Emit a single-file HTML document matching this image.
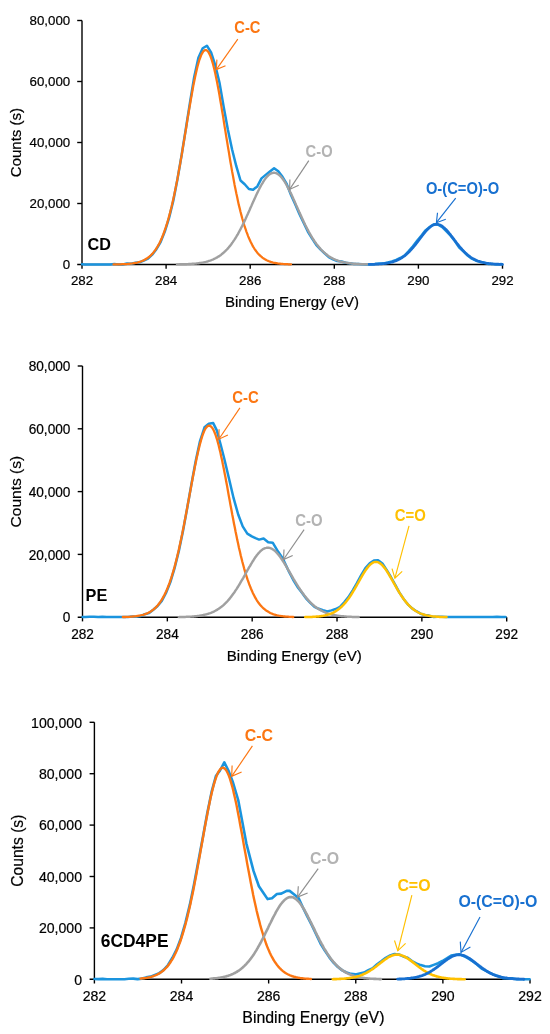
<!DOCTYPE html>
<html lang="en"><head><meta charset="utf-8"><title>XPS C1s spectra</title>
<style>html,body{margin:0;padding:0;background:#fff}svg{display:block}</style></head>
<body>
<svg width="550" height="1034" viewBox="0 0 550 1034" font-family="'Liberation Sans', sans-serif">
<rect width="550" height="1034" fill="#fff"/>
<g stroke="#000" stroke-width="1.4" fill="none">
<line x1="82.0" y1="20.5" x2="82.0" y2="268.7"/>
<line x1="77.2" y1="264.5" x2="502.5" y2="264.5"/>
<line x1="77.2" y1="203.50" x2="82.0" y2="203.50"/>
<line x1="77.2" y1="142.50" x2="82.0" y2="142.50"/>
<line x1="77.2" y1="81.50" x2="82.0" y2="81.50"/>
<line x1="77.2" y1="20.50" x2="82.0" y2="20.50"/>
<line x1="166.10" y1="264.5" x2="166.10" y2="268.7"/>
<line x1="250.20" y1="264.5" x2="250.20" y2="268.7"/>
<line x1="334.30" y1="264.5" x2="334.30" y2="268.7"/>
<line x1="418.40" y1="264.5" x2="418.40" y2="268.7"/>
<line x1="502.50" y1="264.5" x2="502.50" y2="268.7"/>
</g>
<g>
<text transform="translate(70.20,269.32) scale(1.0,1.02)" font-size="13.3" text-anchor="end" fill="#000" stroke="#000" stroke-width="0.2">0</text>
<text transform="translate(70.20,208.32) scale(1.0,1.02)" font-size="13.3" text-anchor="end" fill="#000" stroke="#000" stroke-width="0.2">20,000</text>
<text transform="translate(70.20,147.32) scale(1.0,1.02)" font-size="13.3" text-anchor="end" fill="#000" stroke="#000" stroke-width="0.2">40,000</text>
<text transform="translate(70.20,86.32) scale(1.0,1.02)" font-size="13.3" text-anchor="end" fill="#000" stroke="#000" stroke-width="0.2">60,000</text>
<text transform="translate(70.20,25.32) scale(1.0,1.02)" font-size="13.3" text-anchor="end" fill="#000" stroke="#000" stroke-width="0.2">80,000</text>
<text transform="translate(82.00,284.80) scale(1.0,1.02)" font-size="13.3" text-anchor="middle" fill="#000" stroke="#000" stroke-width="0.2">282</text>
<text transform="translate(166.10,284.80) scale(1.0,1.02)" font-size="13.3" text-anchor="middle" fill="#000" stroke="#000" stroke-width="0.2">284</text>
<text transform="translate(250.20,284.80) scale(1.0,1.02)" font-size="13.3" text-anchor="middle" fill="#000" stroke="#000" stroke-width="0.2">286</text>
<text transform="translate(334.30,284.80) scale(1.0,1.02)" font-size="13.3" text-anchor="middle" fill="#000" stroke="#000" stroke-width="0.2">288</text>
<text transform="translate(418.40,284.80) scale(1.0,1.02)" font-size="13.3" text-anchor="middle" fill="#000" stroke="#000" stroke-width="0.2">290</text>
<text transform="translate(502.50,284.80) scale(1.0,1.02)" font-size="13.3" text-anchor="middle" fill="#000" stroke="#000" stroke-width="0.2">292</text>
</g>
<text transform="translate(292.00,306.80) scale(1.0,1.0)" font-size="15.0" text-anchor="middle" fill="#000" stroke="#000" stroke-width="0.2">Binding Energy (eV)</text>
<text transform="translate(20.80,142.60) rotate(-90) scale(1.0,1.0)" font-size="15.0" text-anchor="middle" fill="#000" stroke="#000" stroke-width="0.2">Counts (s)</text>
<polyline fill="none" stroke="#1A94DE" stroke-width="2.5" stroke-linejoin="round" stroke-linecap="round" points="82.0,264.3 84.9,264.4 89.1,264.4 93.3,264.4 97.5,264.4 101.7,264.4 105.9,264.4 110.1,264.4 114.3,264.1 118.6,264.4 122.8,264.4 127.0,263.6 131.2,263.8 135.4,262.8 139.6,262.3 143.8,260.6 148.0,258.7 152.2,254.7 156.4,249.2 160.6,242.1 164.8,231.6 169.0,218.1 173.2,201.3 177.4,179.6 181.6,155.3 185.8,129.0 190.0,102.4 194.2,76.9 198.4,57.7 202.7,48.2 206.9,45.7 211.1,52.5 215.3,65.3 219.5,82.8 223.7,107.0 227.9,129.7 232.1,149.5 236.3,166.2 240.5,180.5 244.7,184.2 248.9,189.0 253.1,189.7 257.3,186.4 261.5,178.4 265.7,174.9 269.9,171.5 274.1,168.2 278.3,171.3 282.5,176.8 286.7,184.0 291.0,195.0 295.2,204.3 299.4,213.9 303.6,222.8 307.8,231.5 312.0,238.4 316.2,244.8 320.4,249.3 324.6,253.3 328.8,257.1 333.0,259.4 337.2,261.0 341.4,261.5 345.6,262.8 349.8,263.3 354.0,264.0 358.2,264.0 362.4,264.3 366.6,264.4 370.9,264.2 375.1,264.1 379.3,263.5 383.5,263.4 387.7,262.5 391.9,261.5 396.1,259.9 400.3,258.0 404.5,255.5 408.7,251.0 412.9,246.2 417.1,240.9 421.3,235.7 425.5,230.4 429.7,227.0 433.9,224.2 438.1,224.6 442.3,227.2 446.5,231.5 450.8,235.9 455.0,241.3 459.2,247.5 463.4,251.4 467.6,255.6 471.8,258.7 476.0,260.7 480.2,261.7 484.4,262.6 488.6,264.0 492.8,263.9 497.0,264.4 501.2,264.1"/>
<polyline fill="none" stroke="#FC7612" stroke-width="2.25" stroke-linejoin="round" stroke-linecap="round" points="113.5,264.4 114.4,264.4 115.2,264.4 116.1,264.4 116.9,264.4 117.7,264.4 118.6,264.3 119.4,264.3 120.3,264.3 121.1,264.3 121.9,264.2 122.8,264.2 123.6,264.2 124.5,264.1 125.3,264.1 126.2,264.0 127.0,264.0 127.8,263.9 128.7,263.9 129.5,263.8 130.4,263.7 131.2,263.6 132.0,263.5 132.9,263.4 133.7,263.2 134.6,263.1 135.4,262.9 136.2,262.8 137.1,262.6 137.9,262.4 138.8,262.1 139.6,261.9 140.4,261.6 141.3,261.3 142.1,261.0 143.0,260.6 143.8,260.2 144.7,259.8 145.5,259.3 146.3,258.8 147.2,258.3 148.0,257.7 148.9,257.0 149.7,256.3 150.5,255.6 151.4,254.7 152.2,253.9 153.1,252.9 153.9,251.9 154.7,250.8 155.6,249.6 156.4,248.4 157.3,247.0 158.1,245.6 159.0,244.0 159.8,242.4 160.6,240.7 161.5,238.8 162.3,236.8 163.2,234.7 164.0,232.5 164.8,230.2 165.7,227.7 166.5,225.1 167.4,222.4 168.2,219.5 169.0,216.5 169.9,213.4 170.7,210.1 171.6,206.7 172.4,203.1 173.2,199.4 174.1,195.5 174.9,191.5 175.8,187.3 176.6,183.1 177.5,178.7 178.3,174.1 179.1,169.5 180.0,164.8 180.8,159.9 181.7,155.0 182.5,150.0 183.3,145.0 184.2,139.8 185.0,134.7 185.9,129.5 186.7,124.4 187.5,119.2 188.4,114.1 189.2,109.1 190.1,104.1 190.9,99.2 191.8,94.4 192.6,89.8 193.4,85.3 194.3,81.0 195.1,77.0 196.0,73.1 196.8,69.5 197.6,66.1 198.5,63.0 199.3,60.2 200.2,57.8 201.0,55.6 201.8,53.8 202.7,52.3 203.5,51.2 204.4,50.5 205.2,50.1 206.0,50.1 206.9,50.5 207.7,51.3 208.6,52.4 209.4,53.9 210.3,55.8 211.1,58.0 211.9,60.5 212.8,63.3 213.6,66.5 214.5,69.9 215.3,73.6 216.1,77.6 217.0,81.8 217.8,86.1 218.7,90.7 219.5,95.4 220.3,100.3 221.2,105.2 222.0,110.3 222.9,115.4 223.7,120.6 224.5,125.8 225.4,131.1 226.2,136.3 227.1,141.5 227.9,146.7 228.8,151.8 229.6,156.8 230.4,161.7 231.3,166.6 232.1,171.4 233.0,176.0 233.8,180.5 234.6,184.9 235.5,189.2 236.3,193.3 237.2,197.3 238.0,201.2 238.8,204.9 239.7,208.4 240.5,211.8 241.4,215.1 242.2,218.2 243.1,221.2 243.9,224.0 244.7,226.7 245.6,229.2 246.4,231.6 247.3,233.9 248.1,236.1 248.9,238.1 249.8,240.0 250.6,241.8 251.5,243.5 252.3,245.1 253.1,246.6 254.0,248.0 254.8,249.3 255.7,250.5 256.5,251.6 257.3,252.7 258.2,253.7 259.0,254.6 259.9,255.4 260.7,256.2 261.6,256.9 262.4,257.6 263.2,258.2 264.1,258.7 264.9,259.3 265.8,259.7 266.6,260.2 267.4,260.6 268.3,260.9 269.1,261.3 270.0,261.6 270.8,261.9 271.6,262.1 272.5,262.4 273.3,262.6 274.2,262.8 275.0,262.9 275.9,263.1 276.7,263.2 277.5,263.4 278.4,263.5 279.2,263.6 280.1,263.7 280.9,263.8 281.7,263.9 282.6,263.9 283.4,264.0 284.3,264.1 285.1,264.1 285.9,264.1 286.8,264.2 287.6,264.2 288.5,264.3 289.3,264.3 290.1,264.3 291.0,264.3"/>
<polyline fill="none" stroke="#A0A0A0" stroke-width="2.4" stroke-linejoin="round" stroke-linecap="round" points="177.0,264.4 177.9,264.4 178.7,264.4 179.6,264.3 180.4,264.3 181.3,264.3 182.1,264.3 182.9,264.3 183.8,264.2 184.6,264.2 185.5,264.2 186.3,264.2 187.2,264.1 188.0,264.1 188.9,264.0 189.7,264.0 190.5,264.0 191.4,263.9 192.2,263.8 193.1,263.8 193.9,263.7 194.8,263.6 195.6,263.6 196.5,263.5 197.3,263.4 198.2,263.3 199.0,263.2 199.8,263.0 200.7,262.9 201.5,262.8 202.4,262.6 203.2,262.5 204.1,262.3 204.9,262.1 205.8,261.9 206.6,261.7 207.4,261.5 208.3,261.2 209.1,260.9 210.0,260.7 210.8,260.4 211.7,260.0 212.5,259.7 213.4,259.3 214.2,258.9 215.0,258.5 215.9,258.1 216.7,257.6 217.6,257.1 218.4,256.6 219.3,256.1 220.1,255.5 221.0,254.9 221.8,254.2 222.6,253.5 223.5,252.8 224.3,252.0 225.2,251.2 226.0,250.4 226.9,249.5 227.7,248.6 228.6,247.6 229.4,246.6 230.3,245.6 231.1,244.5 231.9,243.3 232.8,242.1 233.6,240.9 234.5,239.6 235.3,238.3 236.2,236.9 237.0,235.5 237.9,234.1 238.7,232.5 239.5,231.0 240.4,229.4 241.2,227.8 242.1,226.1 242.9,224.4 243.8,222.7 244.6,220.9 245.5,219.1 246.3,217.3 247.1,215.4 248.0,213.5 248.8,211.7 249.7,209.8 250.5,207.8 251.4,205.9 252.2,204.0 253.1,202.1 253.9,200.2 254.7,198.4 255.6,196.5 256.4,194.7 257.3,192.9 258.1,191.2 259.0,189.5 259.8,187.8 260.7,186.2 261.5,184.7 262.4,183.3 263.2,181.9 264.0,180.6 264.9,179.4 265.7,178.2 266.6,177.2 267.4,176.3 268.3,175.4 269.1,174.7 270.0,174.1 270.8,173.6 271.6,173.2 272.5,173.0 273.3,172.8 274.2,172.8 275.0,172.9 275.9,173.1 276.7,173.4 277.6,173.9 278.4,174.4 279.2,175.1 280.1,175.9 280.9,176.7 281.8,177.7 282.6,178.8 283.5,180.0 284.3,181.2 285.2,182.6 286.0,184.0 286.8,185.5 287.7,187.1 288.5,188.7 289.4,190.3 290.2,192.1 291.1,193.8 291.9,195.6 292.8,197.5 293.6,199.3 294.5,201.2 295.3,203.1 296.1,205.0 297.0,206.9 297.8,208.8 298.7,210.7 299.5,212.6 300.4,214.5 301.2,216.4 302.1,218.2 302.9,220.0 303.7,221.8 304.6,223.6 305.4,225.3 306.3,227.0 307.1,228.6 308.0,230.2 308.8,231.8 309.7,233.3 310.5,234.8 311.3,236.3 312.2,237.6 313.0,239.0 313.9,240.3 314.7,241.6 315.6,242.8 316.4,243.9 317.3,245.0 318.1,246.1 318.9,247.1 319.8,248.1 320.6,249.1 321.5,250.0 322.3,250.8 323.2,251.7 324.0,252.4 324.9,253.2 325.7,253.9 326.6,254.5 327.4,255.2 328.2,255.8 329.1,256.4 329.9,256.9 330.8,257.4 331.6,257.9 332.5,258.3 333.3,258.8 334.2,259.2 335.0,259.5 335.8,259.9 336.7,260.2 337.5,260.5 338.4,260.8 339.2,261.1 340.1,261.3 340.9,261.6 341.8,261.8 342.6,262.0 343.4,262.2 344.3,262.4 345.1,262.5 346.0,262.7 346.8,262.8 347.7,263.0 348.5,263.1 349.4,263.2 350.2,263.3 351.0,263.4 351.9,263.5 352.7,263.6 353.6,263.7 354.4,263.7 355.3,263.8 356.1,263.9 357.0,263.9 357.8,264.0 358.7,264.0 359.5,264.1 360.3,264.1 361.2,264.1 362.0,264.2 362.9,264.2 363.7,264.2 364.6,264.3 365.4,264.3 366.3,264.3 367.1,264.3"/>
<polyline fill="none" stroke="#1770D0" stroke-width="2.7" stroke-linejoin="round" stroke-linecap="round" points="369.2,264.4 370.0,264.4 370.9,264.4 371.7,264.3 372.6,264.3 373.4,264.3 374.3,264.3 375.1,264.2 376.0,264.2 376.8,264.2 377.6,264.1 378.5,264.1 379.3,264.0 380.2,264.0 381.0,263.9 381.9,263.8 382.7,263.7 383.5,263.6 384.4,263.5 385.2,263.4 386.1,263.3 386.9,263.2 387.8,263.0 388.6,262.9 389.4,262.7 390.3,262.5 391.1,262.3 392.0,262.1 392.8,261.9 393.7,261.6 394.5,261.3 395.4,261.0 396.2,260.7 397.0,260.3 397.9,259.9 398.7,259.5 399.6,259.1 400.4,258.6 401.3,258.1 402.1,257.6 402.9,257.0 403.8,256.4 404.6,255.8 405.5,255.1 406.3,254.4 407.2,253.6 408.0,252.9 408.9,252.0 409.7,251.2 410.5,250.3 411.4,249.4 412.2,248.4 413.1,247.5 413.9,246.5 414.8,245.4 415.6,244.4 416.4,243.3 417.3,242.2 418.1,241.1 419.0,240.0 419.8,238.8 420.7,237.7 421.5,236.6 422.4,235.5 423.2,234.4 424.0,233.4 424.9,232.3 425.7,231.4 426.6,230.4 427.4,229.5 428.3,228.7 429.1,227.9 429.9,227.2 430.8,226.5 431.6,225.9 432.5,225.4 433.3,225.0 434.2,224.7 435.0,224.5 435.9,224.3 436.7,224.3 437.5,224.3 438.4,224.5 439.2,224.7 440.1,225.0 440.9,225.4 441.8,225.9 442.6,226.5 443.4,227.2 444.3,227.9 445.1,228.7 446.0,229.5 446.8,230.4 447.7,231.4 448.5,232.4 449.3,233.4 450.2,234.4 451.0,235.5 451.9,236.6 452.7,237.7 453.6,238.8 454.4,240.0 455.3,241.1 456.1,242.2 456.9,243.3 457.8,244.4 458.6,245.4 459.5,246.5 460.3,247.5 461.2,248.4 462.0,249.4 462.8,250.3 463.7,251.2 464.5,252.1 465.4,252.9 466.2,253.6 467.1,254.4 467.9,255.1 468.8,255.8 469.6,256.4 470.4,257.0 471.3,257.6 472.1,258.1 473.0,258.6 473.8,259.1 474.7,259.5 475.5,259.9 476.3,260.3 477.2,260.7 478.0,261.0 478.9,261.3 479.7,261.6 480.6,261.9 481.4,262.1 482.3,262.3 483.1,262.5 483.9,262.7 484.8,262.9 485.6,263.0 486.5,263.2 487.3,263.3 488.2,263.4 489.0,263.5 489.8,263.6 490.7,263.7 491.5,263.8 492.4,263.9 493.2,264.0 494.1,264.0 494.9,264.1 495.8,264.1 496.6,264.2 497.4,264.2 498.3,264.2 499.1,264.3 500.0,264.3 500.8,264.3 501.7,264.3 502.5,264.4"/>
<text transform="translate(234.30,33.40) scale(1.0,1.07)" font-size="14.75" font-weight="bold" fill="#FC7612">C-C</text>
<line x1="237.8" y1="39.1" x2="216.3" y2="69.6" stroke="#FC7612" stroke-width="1.15"/><polyline points="216.9,59.6 216.3,69.6 225.5,65.7" fill="none" stroke="#FC7612" stroke-width="1.15"/>
<text transform="translate(305.60,157.10) scale(1.0,1.07)" font-size="14.75" font-weight="bold" fill="#B3B3B3">C-O</text>
<line x1="308.8" y1="160.6" x2="289.6" y2="189.4" stroke="#8E8E8E" stroke-width="1.15"/><polyline points="289.9,179.4 289.6,189.4 298.7,185.3" fill="none" stroke="#8E8E8E" stroke-width="1.15"/>
<text transform="translate(425.90,194.30) scale(1.0,1.07)" font-size="14.75" font-weight="bold" fill="#1770D0">O-(C=O)-O</text>
<line x1="455.7" y1="198.1" x2="436.4" y2="222.7" stroke="#1770D0" stroke-width="1.15"/><polyline points="437.5,212.8 436.4,222.7 445.8,219.3" fill="none" stroke="#1770D0" stroke-width="1.15"/>
<text transform="translate(87.50,250.40) scale(1.0,1.0)" font-size="16.2" font-weight="bold" fill="#000">CD</text>
<g stroke="#000" stroke-width="1.4" fill="none">
<line x1="82.5" y1="366.0" x2="82.5" y2="621.4000000000001"/>
<line x1="77.7" y1="617.2" x2="506.7" y2="617.2"/>
<line x1="77.7" y1="554.40" x2="82.5" y2="554.40"/>
<line x1="77.7" y1="491.60" x2="82.5" y2="491.60"/>
<line x1="77.7" y1="428.80" x2="82.5" y2="428.80"/>
<line x1="77.7" y1="366.00" x2="82.5" y2="366.00"/>
<line x1="167.34" y1="617.2" x2="167.34" y2="621.4000000000001"/>
<line x1="252.18" y1="617.2" x2="252.18" y2="621.4000000000001"/>
<line x1="337.02" y1="617.2" x2="337.02" y2="621.4000000000001"/>
<line x1="421.86" y1="617.2" x2="421.86" y2="621.4000000000001"/>
<line x1="506.70" y1="617.2" x2="506.70" y2="621.4000000000001"/>
</g>
<g>
<text transform="translate(70.40,622.43) scale(1.0,1.08)" font-size="13.65" text-anchor="end" fill="#000" stroke="#000" stroke-width="0.2">0</text>
<text transform="translate(70.40,559.63) scale(1.0,1.08)" font-size="13.65" text-anchor="end" fill="#000" stroke="#000" stroke-width="0.2">20,000</text>
<text transform="translate(70.40,496.83) scale(1.0,1.08)" font-size="13.65" text-anchor="end" fill="#000" stroke="#000" stroke-width="0.2">40,000</text>
<text transform="translate(70.40,434.03) scale(1.0,1.08)" font-size="13.65" text-anchor="end" fill="#000" stroke="#000" stroke-width="0.2">60,000</text>
<text transform="translate(70.40,371.23) scale(1.0,1.08)" font-size="13.65" text-anchor="end" fill="#000" stroke="#000" stroke-width="0.2">80,000</text>
<text transform="translate(82.50,638.70) scale(1.0,1.08)" font-size="13.65" text-anchor="middle" fill="#000" stroke="#000" stroke-width="0.2">282</text>
<text transform="translate(167.34,638.70) scale(1.0,1.08)" font-size="13.65" text-anchor="middle" fill="#000" stroke="#000" stroke-width="0.2">284</text>
<text transform="translate(252.18,638.70) scale(1.0,1.08)" font-size="13.65" text-anchor="middle" fill="#000" stroke="#000" stroke-width="0.2">286</text>
<text transform="translate(337.02,638.70) scale(1.0,1.08)" font-size="13.65" text-anchor="middle" fill="#000" stroke="#000" stroke-width="0.2">288</text>
<text transform="translate(421.86,638.70) scale(1.0,1.08)" font-size="13.65" text-anchor="middle" fill="#000" stroke="#000" stroke-width="0.2">290</text>
<text transform="translate(506.70,638.70) scale(1.0,1.08)" font-size="13.65" text-anchor="middle" fill="#000" stroke="#000" stroke-width="0.2">292</text>
</g>
<text transform="translate(294.30,660.70) scale(1.0,1.03)" font-size="15.1" text-anchor="middle" fill="#000" stroke="#000" stroke-width="0.2">Binding Energy (eV)</text>
<text transform="translate(20.80,491.60) rotate(-90) scale(1.03,1.0)" font-size="15.1" text-anchor="middle" fill="#000" stroke="#000" stroke-width="0.2">Counts (s)</text>
<polyline fill="none" stroke="#1A94DE" stroke-width="2.5" stroke-linejoin="round" stroke-linecap="round" points="82.5,616.9 85.4,617.1 89.7,616.8 93.9,616.7 98.2,617.1 102.4,616.7 106.6,617.1 110.9,617.1 115.1,617.1 119.4,617.1 123.6,617.1 127.9,617.0 132.1,616.6 136.3,616.7 140.6,616.1 144.8,614.2 149.1,613.1 153.3,609.8 157.6,606.0 161.8,600.9 166.0,593.0 170.3,582.3 174.5,568.4 178.8,551.3 183.0,531.0 187.2,508.1 191.5,483.7 195.7,461.0 200.0,441.1 204.5,427.3 208.8,423.8 213.2,423.1 216.8,430.4 220.5,444.0 224.1,458.0 229.1,479.0 233.6,498.2 238.2,514.5 242.7,526.4 247.3,533.6 251.8,536.4 255.5,538.2 259.1,539.6 263.6,538.5 268.2,542.2 272.7,542.7 278.2,551.8 282.7,558.2 289.1,572.0 293.3,580.0 297.5,586.9 301.8,592.5 306.0,598.4 310.3,602.8 314.5,606.8 318.7,608.8 323.0,610.2 327.2,611.4 331.5,610.4 335.7,609.0 340.0,606.9 344.2,602.3 348.4,597.1 352.7,590.3 356.9,583.2 361.2,575.1 365.4,568.1 369.7,563.4 373.9,560.6 378.1,560.3 382.4,563.4 386.6,569.9 390.9,577.0 395.1,584.7 399.3,592.4 403.6,598.9 407.8,604.3 412.1,608.4 416.3,611.2 420.6,613.7 424.8,615.0 429.0,615.6 433.3,616.9 437.5,616.7 441.8,616.7 446.0,617.1 450.2,617.1 454.5,616.9 458.7,617.1 463.0,617.1 467.2,617.1 471.5,617.0 475.7,617.1 479.9,617.1 484.2,617.1 488.4,616.9 492.7,617.1 496.9,616.8 501.2,617.1 505.4,617.1"/>
<polyline fill="none" stroke="#FC7612" stroke-width="2.3" stroke-linejoin="round" stroke-linecap="round" points="122.8,617.0 123.6,617.0 124.5,617.0 125.3,617.0 126.2,616.9 127.0,616.9 127.9,616.9 128.7,616.8 129.6,616.8 130.4,616.7 131.3,616.7 132.1,616.6 133.0,616.5 133.8,616.4 134.7,616.4 135.5,616.3 136.4,616.1 137.2,616.0 138.1,615.9 138.9,615.7 139.8,615.6 140.6,615.4 141.5,615.2 142.3,615.0 143.2,614.8 144.0,614.5 144.9,614.2 145.7,613.9 146.6,613.6 147.4,613.2 148.3,612.8 149.1,612.4 149.9,611.9 150.8,611.4 151.6,610.8 152.5,610.2 153.3,609.6 154.2,608.9 155.0,608.1 155.9,607.3 156.7,606.4 157.6,605.5 158.4,604.4 159.3,603.3 160.1,602.2 161.0,600.9 161.8,599.6 162.7,598.2 163.5,596.6 164.4,595.0 165.2,593.3 166.1,591.5 166.9,589.6 167.8,587.5 168.6,585.4 169.5,583.1 170.3,580.7 171.2,578.2 172.0,575.5 172.9,572.7 173.7,569.8 174.6,566.8 175.4,563.7 176.2,560.4 177.1,557.0 177.9,553.4 178.8,549.7 179.6,546.0 180.5,542.1 181.3,538.0 182.2,533.9 183.0,529.7 183.9,525.4 184.7,521.0 185.6,516.5 186.4,512.0 187.3,507.4 188.1,502.8 189.0,498.2 189.8,493.6 190.7,489.0 191.5,484.4 192.4,479.8 193.2,475.3 194.1,470.9 194.9,466.6 195.8,462.4 196.6,458.3 197.5,454.4 198.3,450.7 199.2,447.2 200.0,443.8 200.9,440.8 201.7,437.9 202.5,435.3 203.4,433.0 204.2,431.0 205.1,429.3 205.9,427.9 206.8,426.9 207.6,426.1 208.5,425.7 209.3,425.6 210.2,425.9 211.0,426.4 211.9,427.4 212.7,428.6 213.6,430.1 214.4,432.0 215.3,434.2 216.1,436.6 217.0,439.3 217.8,442.3 218.7,445.5 219.5,448.9 220.4,452.5 221.2,456.4 222.1,460.3 222.9,464.5 223.8,468.7 224.6,473.1 225.5,477.5 226.3,482.1 227.2,486.6 228.0,491.3 228.8,495.9 229.7,500.5 230.5,505.1 231.4,509.7 232.2,514.3 233.1,518.8 233.9,523.2 234.8,527.6 235.6,531.8 236.5,536.0 237.3,540.1 238.2,544.0 239.0,547.9 239.9,551.6 240.7,555.2 241.6,558.7 242.4,562.0 243.3,565.3 244.1,568.3 245.0,571.3 245.8,574.1 246.7,576.9 247.5,579.4 248.4,581.9 249.2,584.2 250.1,586.4 250.9,588.5 251.8,590.5 252.6,592.4 253.5,594.2 254.3,595.8 255.1,597.4 256.0,598.9 256.8,600.3 257.7,601.6 258.5,602.8 259.4,603.9 260.2,605.0 261.1,605.9 261.9,606.8 262.8,607.7 263.6,608.5 264.5,609.2 265.3,609.9 266.2,610.5 267.0,611.1 267.9,611.6 268.7,612.1 269.6,612.6 270.4,613.0 271.3,613.4 272.1,613.7 273.0,614.1 273.8,614.4 274.7,614.6 275.5,614.9 276.4,615.1 277.2,615.3 278.1,615.5 278.9,615.7 279.8,615.8 280.6,616.0 281.4,616.1 282.3,616.2 283.1,616.3 284.0,616.4 284.8,616.5 285.7,616.6 286.5,616.6 287.4,616.7 288.2,616.7 289.1,616.8 289.9,616.8 290.8,616.9 291.6,616.9 292.5,617.0 293.3,617.0"/>
<polyline fill="none" stroke="#A0A0A0" stroke-width="2.45" stroke-linejoin="round" stroke-linecap="round" points="178.8,617.1 179.6,617.0 180.5,617.0 181.3,617.0 182.2,617.0 183.0,617.0 183.9,616.9 184.7,616.9 185.6,616.9 186.4,616.8 187.3,616.8 188.1,616.8 189.0,616.7 189.8,616.7 190.7,616.6 191.5,616.6 192.4,616.5 193.2,616.4 194.1,616.4 194.9,616.3 195.8,616.2 196.6,616.1 197.5,616.0 198.3,615.9 199.2,615.8 200.0,615.6 200.9,615.5 201.7,615.4 202.5,615.2 203.4,615.0 204.2,614.8 205.1,614.6 205.9,614.4 206.8,614.2 207.6,613.9 208.5,613.7 209.3,613.4 210.2,613.1 211.0,612.8 211.9,612.4 212.7,612.1 213.6,611.7 214.4,611.3 215.3,610.8 216.1,610.3 217.0,609.9 217.8,609.3 218.7,608.8 219.5,608.2 220.4,607.6 221.2,606.9 222.1,606.3 222.9,605.6 223.8,604.8 224.6,604.0 225.5,603.2 226.3,602.4 227.2,601.5 228.0,600.5 228.8,599.6 229.7,598.6 230.5,597.5 231.4,596.4 232.2,595.3 233.1,594.1 233.9,592.9 234.8,591.7 235.6,590.4 236.5,589.1 237.3,587.8 238.2,586.5 239.0,585.1 239.9,583.6 240.7,582.2 241.6,580.7 242.4,579.3 243.3,577.8 244.1,576.3 245.0,574.8 245.8,573.2 246.7,571.7 247.5,570.2 248.4,568.7 249.2,567.2 250.1,565.8 250.9,564.3 251.8,562.9 252.6,561.5 253.5,560.2 254.3,558.9 255.1,557.6 256.0,556.4 256.8,555.3 257.7,554.2 258.5,553.2 259.4,552.3 260.2,551.4 261.1,550.6 261.9,549.9 262.8,549.3 263.6,548.8 264.5,548.4 265.3,548.1 266.2,547.9 267.0,547.7 267.9,547.7 268.7,547.8 269.6,547.9 270.4,548.2 271.3,548.5 272.1,548.9 273.0,549.5 273.8,550.1 274.7,550.7 275.5,551.5 276.4,552.4 277.2,553.3 278.1,554.2 278.9,555.3 279.8,556.4 280.6,557.6 281.4,558.8 282.3,560.0 283.1,561.3 284.0,562.7 284.8,564.0 285.7,565.4 286.5,566.9 287.4,568.3 288.2,569.8 289.1,571.2 289.9,572.7 290.8,574.2 291.6,575.6 292.5,577.1 293.3,578.6 294.2,580.0 295.0,581.4 295.9,582.8 296.7,584.2 297.6,585.6 298.4,586.9 299.3,588.2 300.1,589.5 301.0,590.8 301.8,592.0 302.7,593.2 303.5,594.3 304.4,595.5 305.2,596.5 306.1,597.6 306.9,598.6 307.8,599.6 308.6,600.5 309.4,601.4 310.3,602.3 311.1,603.1 312.0,603.9 312.8,604.7 313.7,605.4 314.5,606.1 315.4,606.8 316.2,607.4 317.1,608.0 317.9,608.6 318.8,609.1 319.6,609.7 320.5,610.1 321.3,610.6 322.2,611.0 323.0,611.5 323.9,611.9 324.7,612.2 325.6,612.6 326.4,612.9 327.3,613.2 328.1,613.5 329.0,613.8 329.8,614.0 330.7,614.2 331.5,614.5 332.4,614.7 333.2,614.9 334.1,615.0 334.9,615.2 335.7,615.4 336.6,615.5 337.4,615.6 338.3,615.8 339.1,615.9 340.0,616.0 340.8,616.1 341.7,616.2 342.5,616.3 343.4,616.3 344.2,616.4 345.1,616.5 345.9,616.5 346.8,616.6 347.6,616.7 348.5,616.7 349.3,616.8 350.2,616.8 351.0,616.8 351.9,616.9 352.7,616.9 353.6,616.9 354.4,616.9 355.3,617.0 356.1,617.0 357.0,617.0 357.8,617.0 358.7,617.0"/>
<polyline fill="none" stroke="#FFC000" stroke-width="2.5" stroke-linejoin="round" stroke-linecap="round" points="305.2,617.1 306.1,617.1 306.9,617.1 307.8,617.0 308.6,617.0 309.5,617.0 310.3,617.0 311.2,616.9 312.0,616.9 312.9,616.8 313.7,616.8 314.6,616.7 315.4,616.7 316.3,616.6 317.1,616.5 318.0,616.5 318.8,616.4 319.7,616.3 320.5,616.2 321.4,616.0 322.2,615.9 323.1,615.8 323.9,615.6 324.8,615.4 325.6,615.2 326.5,615.0 327.3,614.8 328.2,614.6 329.0,614.3 329.9,614.0 330.7,613.7 331.6,613.3 332.4,613.0 333.3,612.6 334.1,612.1 335.0,611.6 335.8,611.1 336.7,610.6 337.5,610.0 338.4,609.4 339.2,608.7 340.1,608.0 340.9,607.3 341.8,606.5 342.6,605.7 343.5,604.8 344.3,603.8 345.2,602.9 346.1,601.8 346.9,600.8 347.8,599.6 348.6,598.5 349.5,597.2 350.3,596.0 351.2,594.7 352.0,593.3 352.9,592.0 353.7,590.5 354.6,589.1 355.4,587.6 356.3,586.1 357.1,584.6 358.0,583.1 358.8,581.6 359.7,580.1 360.5,578.6 361.4,577.1 362.2,575.6 363.1,574.2 363.9,572.8 364.8,571.5 365.6,570.2 366.5,569.0 367.3,567.8 368.2,566.8 369.0,565.8 369.9,564.9 370.7,564.1 371.6,563.5 372.4,562.9 373.3,562.5 374.1,562.1 375.0,561.9 375.8,561.9 376.7,561.9 377.5,562.1 378.4,562.4 379.2,562.8 380.1,563.3 380.9,564.0 381.8,564.7 382.6,565.6 383.5,566.6 384.3,567.6 385.2,568.7 386.0,569.9 386.9,571.2 387.7,572.5 388.6,573.9 389.4,575.3 390.3,576.8 391.2,578.3 392.0,579.8 392.9,581.3 393.7,582.8 394.6,584.3 395.4,585.8 396.3,587.3 397.1,588.8 398.0,590.3 398.8,591.7 399.7,593.1 400.5,594.4 401.4,595.7 402.2,597.0 403.1,598.2 403.9,599.4 404.8,600.5 405.6,601.6 406.5,602.7 407.3,603.7 408.2,604.6 409.0,605.5 409.9,606.3 410.7,607.1 411.6,607.9 412.4,608.6 413.3,609.3 414.1,609.9 415.0,610.5 415.8,611.0 416.7,611.5 417.5,612.0 418.4,612.5 419.2,612.9 420.1,613.3 420.9,613.6 421.8,613.9 422.6,614.2 423.5,614.5 424.3,614.8 425.2,615.0 426.0,615.2 426.9,615.4 427.7,615.6 428.6,615.7 429.4,615.9 430.3,616.0 431.1,616.1 432.0,616.3 432.8,616.4 433.7,616.4 434.6,616.5 435.4,616.6 436.3,616.7 437.1,616.7 438.0,616.8 438.8,616.8 439.7,616.9 440.5,616.9 441.4,616.9 442.2,617.0 443.1,617.0 443.9,617.0 444.8,617.0 445.6,617.1 446.5,617.1"/>
<text transform="translate(232.20,403.20) scale(1.0,1.07)" font-size="14.9" font-weight="bold" fill="#FC7612">C-C</text>
<line x1="239.9" y1="407.9" x2="218.8" y2="439.2" stroke="#FC7612" stroke-width="1.15"/><polyline points="219.1,429.2 218.8,439.2 227.9,435.1" fill="none" stroke="#FC7612" stroke-width="1.15"/>
<text transform="translate(295.20,525.70) scale(1.0,1.07)" font-size="14.9" font-weight="bold" fill="#B3B3B3">C-O</text>
<line x1="304.1" y1="529.7" x2="283.5" y2="559.5" stroke="#8E8E8E" stroke-width="1.15"/><polyline points="284.0,549.5 283.5,559.5 292.7,555.5" fill="none" stroke="#8E8E8E" stroke-width="1.15"/>
<text transform="translate(394.70,520.50) scale(1.0,1.07)" font-size="14.9" font-weight="bold" fill="#FFC000">C=O</text>
<line x1="409.0" y1="525.8" x2="394.9" y2="578.2" stroke="#FFC000" stroke-width="1.15"/><polyline points="392.0,568.6 394.9,578.2 402.2,571.4" fill="none" stroke="#FFC000" stroke-width="1.15"/>
<text transform="translate(85.60,600.70) scale(1.0,1.0)" font-size="16.3" font-weight="bold" fill="#000">PE</text>
<g stroke="#000" stroke-width="1.4" fill="none">
<line x1="94.4" y1="722.3" x2="94.4" y2="983.5"/>
<line x1="89.60000000000001" y1="979.3" x2="530.0" y2="979.3"/>
<line x1="89.60000000000001" y1="927.90" x2="94.4" y2="927.90"/>
<line x1="89.60000000000001" y1="876.50" x2="94.4" y2="876.50"/>
<line x1="89.60000000000001" y1="825.10" x2="94.4" y2="825.10"/>
<line x1="89.60000000000001" y1="773.70" x2="94.4" y2="773.70"/>
<line x1="89.60000000000001" y1="722.30" x2="94.4" y2="722.30"/>
<line x1="181.52" y1="979.3" x2="181.52" y2="983.5"/>
<line x1="268.64" y1="979.3" x2="268.64" y2="983.5"/>
<line x1="355.76" y1="979.3" x2="355.76" y2="983.5"/>
<line x1="442.88" y1="979.3" x2="442.88" y2="983.5"/>
<line x1="530.00" y1="979.3" x2="530.00" y2="983.5"/>
</g>
<g>
<text transform="translate(82.00,984.51) scale(1.0,1.04)" font-size="14.1" text-anchor="end" fill="#000" stroke="#000" stroke-width="0.2">0</text>
<text transform="translate(82.00,933.11) scale(1.0,1.04)" font-size="14.1" text-anchor="end" fill="#000" stroke="#000" stroke-width="0.2">20,000</text>
<text transform="translate(82.00,881.71) scale(1.0,1.04)" font-size="14.1" text-anchor="end" fill="#000" stroke="#000" stroke-width="0.2">40,000</text>
<text transform="translate(82.00,830.31) scale(1.0,1.04)" font-size="14.1" text-anchor="end" fill="#000" stroke="#000" stroke-width="0.2">60,000</text>
<text transform="translate(82.00,778.91) scale(1.0,1.04)" font-size="14.1" text-anchor="end" fill="#000" stroke="#000" stroke-width="0.2">80,000</text>
<text transform="translate(82.00,727.51) scale(1.0,1.04)" font-size="14.1" text-anchor="end" fill="#000" stroke="#000" stroke-width="0.2">100,000</text>
<text transform="translate(94.40,1001.20) scale(1.0,1.04)" font-size="14.1" text-anchor="middle" fill="#000" stroke="#000" stroke-width="0.2">282</text>
<text transform="translate(181.52,1001.20) scale(1.0,1.04)" font-size="14.1" text-anchor="middle" fill="#000" stroke="#000" stroke-width="0.2">284</text>
<text transform="translate(268.64,1001.20) scale(1.0,1.04)" font-size="14.1" text-anchor="middle" fill="#000" stroke="#000" stroke-width="0.2">286</text>
<text transform="translate(355.76,1001.20) scale(1.0,1.04)" font-size="14.1" text-anchor="middle" fill="#000" stroke="#000" stroke-width="0.2">288</text>
<text transform="translate(442.88,1001.20) scale(1.0,1.04)" font-size="14.1" text-anchor="middle" fill="#000" stroke="#000" stroke-width="0.2">290</text>
<text transform="translate(530.00,1001.20) scale(1.0,1.04)" font-size="14.1" text-anchor="middle" fill="#000" stroke="#000" stroke-width="0.2">292</text>
</g>
<text transform="translate(313.40,1023.30) scale(1.0,1.0)" font-size="15.9" text-anchor="middle" fill="#000" stroke="#000" stroke-width="0.2">Binding Energy (eV)</text>
<text transform="translate(23.00,850.70) rotate(-90) scale(0.985,1.0)" font-size="15.9" text-anchor="middle" fill="#000" stroke="#000" stroke-width="0.2">Counts (s)</text>
<polyline fill="none" stroke="#1A94DE" stroke-width="2.6" stroke-linejoin="round" stroke-linecap="round" points="94.4,979.0 98.3,979.1 102.7,978.9 107.0,979.2 111.4,979.2 115.7,979.2 120.1,979.2 124.5,979.2 128.8,978.8 133.2,978.6 137.5,979.1 141.9,978.6 146.2,977.4 150.6,976.6 154.9,974.9 159.3,973.1 163.7,969.9 168.0,965.0 172.4,957.8 176.7,949.4 181.1,937.7 185.4,922.8 189.8,904.9 194.1,884.1 198.5,860.4 202.9,837.0 207.2,813.6 211.6,791.9 215.9,776.1 220.0,770.5 224.3,762.4 228.4,770.5 233.0,782.5 238.2,800.0 242.3,821.8 246.4,843.6 250.5,859.4 253.5,870.9 258.9,886.2 263.3,892.7 267.6,899.1 272.0,898.2 276.9,894.0 281.3,893.6 286.7,890.8 289.6,890.9 293.6,894.0 298.7,898.2 303.0,907.7 307.4,916.7 311.8,925.2 316.1,934.2 320.5,943.5 324.8,950.6 329.2,957.1 333.5,962.6 337.9,967.0 342.3,970.4 346.6,972.5 351.0,973.9 355.3,974.4 359.7,973.5 364.0,972.6 368.4,970.1 372.7,968.3 377.1,964.3 381.5,961.1 385.8,957.8 390.2,955.4 394.5,954.1 398.9,954.5 403.2,956.4 407.6,957.8 411.9,961.1 416.3,963.5 420.7,965.1 425.0,966.3 429.4,966.5 433.7,964.9 438.1,963.2 442.4,961.0 446.8,958.4 451.2,955.6 455.5,954.7 459.9,954.4 464.2,956.2 468.6,958.7 472.9,961.5 477.3,964.7 481.6,968.6 486.0,970.9 490.4,973.1 494.7,975.1 499.1,976.4 503.4,978.2 507.8,978.2 512.1,978.4 516.5,979.2 520.8,979.2 525.2,979.2 529.6,979.2"/>
<polyline fill="none" stroke="#FC7612" stroke-width="2.4" stroke-linejoin="round" stroke-linecap="round" points="140.6,978.6 141.4,978.5 142.3,978.4 143.2,978.3 144.1,978.2 144.9,978.1 145.8,978.0 146.7,977.8 147.6,977.7 148.4,977.5 149.3,977.3 150.2,977.1 151.1,976.9 151.9,976.6 152.8,976.3 153.7,976.0 154.5,975.7 155.4,975.4 156.3,975.0 157.2,974.6 158.0,974.1 158.9,973.6 159.8,973.1 160.7,972.5 161.5,971.9 162.4,971.2 163.3,970.5 164.2,969.8 165.0,968.9 165.9,968.0 166.8,967.1 167.7,966.1 168.5,965.0 169.4,963.8 170.3,962.5 171.1,961.2 172.0,959.8 172.9,958.3 173.8,956.7 174.6,955.0 175.5,953.2 176.4,951.2 177.3,949.2 178.1,947.1 179.0,944.8 179.9,942.5 180.8,940.0 181.6,937.4 182.5,934.6 183.4,931.7 184.2,928.7 185.1,925.6 186.0,922.3 186.9,919.0 187.7,915.4 188.6,911.8 189.5,908.0 190.4,904.1 191.2,900.1 192.1,895.9 193.0,891.7 193.9,887.3 194.7,882.8 195.6,878.3 196.5,873.6 197.3,868.9 198.2,864.1 199.1,859.3 200.0,854.4 200.8,849.6 201.7,844.7 202.6,839.8 203.5,834.9 204.3,830.0 205.2,825.2 206.1,820.5 207.0,815.9 207.8,811.4 208.7,807.0 209.6,802.7 210.4,798.6 211.3,794.7 212.2,791.0 213.1,787.5 213.9,784.3 214.8,781.3 215.7,778.6 216.6,776.1 217.4,774.0 218.3,772.1 219.2,770.6 220.1,769.4 220.9,768.5 221.8,768.0 222.7,767.7 223.5,767.9 224.4,768.4 225.3,769.2 226.2,770.3 227.0,771.8 227.9,773.5 228.8,775.6 229.7,778.0 230.5,780.7 231.4,783.6 232.3,786.8 233.2,790.2 234.0,793.9 234.9,797.8 235.8,801.8 236.7,806.0 237.5,810.4 238.4,814.9 239.3,819.5 240.1,824.2 241.0,829.0 241.9,833.8 242.8,838.7 243.6,843.6 244.5,848.5 245.4,853.4 246.3,858.3 247.1,863.1 248.0,867.9 248.9,872.6 249.8,877.3 250.6,881.8 251.5,886.3 252.4,890.7 253.2,895.0 254.1,899.2 255.0,903.2 255.9,907.2 256.7,911.0 257.6,914.6 258.5,918.2 259.4,921.6 260.2,924.9 261.1,928.1 262.0,931.1 262.9,934.0 263.7,936.8 264.6,939.4 265.5,941.9 266.3,944.3 267.2,946.6 268.1,948.8 269.0,950.8 269.8,952.7 270.7,954.6 271.6,956.3 272.5,957.9 273.3,959.5 274.2,960.9 275.1,962.3 276.0,963.5 276.8,964.7 277.7,965.8 278.6,966.9 279.4,967.8 280.3,968.7 281.2,969.6 282.1,970.4 282.9,971.1 283.8,971.8 284.7,972.4 285.6,973.0 286.4,973.5 287.3,974.0 288.2,974.5 289.1,974.9 289.9,975.3 290.8,975.6 291.7,976.0 292.6,976.3 293.4,976.5 294.3,976.8 295.2,977.0 296.0,977.2 296.9,977.4 297.8,977.6 298.7,977.8 299.5,977.9 300.4,978.1 301.3,978.2 302.2,978.3 303.0,978.4 303.9,978.5 304.8,978.6 305.7,978.6 306.5,978.7 307.4,978.8 308.3,978.8 309.1,978.9 310.0,978.9 310.9,979.0"/>
<polyline fill="none" stroke="#A0A0A0" stroke-width="2.6" stroke-linejoin="round" stroke-linecap="round" points="210.3,978.7 211.1,978.7 212.0,978.6 212.9,978.5 213.8,978.4 214.6,978.4 215.5,978.3 216.4,978.2 217.3,978.1 218.2,978.0 219.0,977.8 219.9,977.7 220.8,977.5 221.7,977.4 222.5,977.2 223.4,977.0 224.3,976.8 225.2,976.6 226.0,976.4 226.9,976.1 227.8,975.9 228.7,975.6 229.5,975.3 230.4,975.0 231.3,974.6 232.2,974.3 233.0,973.9 233.9,973.4 234.8,973.0 235.7,972.5 236.5,972.0 237.4,971.5 238.3,970.9 239.2,970.3 240.0,969.7 240.9,969.0 241.8,968.3 242.7,967.5 243.5,966.7 244.4,965.9 245.3,965.0 246.2,964.1 247.0,963.2 247.9,962.2 248.8,961.1 249.7,960.0 250.6,958.9 251.4,957.7 252.3,956.5 253.2,955.2 254.1,953.9 254.9,952.6 255.8,951.1 256.7,949.7 257.6,948.2 258.4,946.7 259.3,945.1 260.2,943.5 261.1,941.9 261.9,940.2 262.8,938.5 263.7,936.8 264.6,935.0 265.4,933.2 266.3,931.4 267.2,929.6 268.1,927.8 268.9,926.0 269.8,924.2 270.7,922.5 271.6,920.7 272.4,918.9 273.3,917.2 274.2,915.5 275.1,913.8 275.9,912.2 276.8,910.7 277.7,909.2 278.6,907.7 279.4,906.3 280.3,905.0 281.2,903.8 282.1,902.7 283.0,901.7 283.8,900.7 284.7,899.9 285.6,899.1 286.5,898.5 287.3,898.0 288.2,897.6 289.1,897.3 290.0,897.1 290.8,897.1 291.7,897.1 292.6,897.3 293.5,897.6 294.3,898.0 295.2,898.5 296.1,899.2 297.0,899.9 297.8,900.8 298.7,901.7 299.6,902.7 300.5,903.9 301.3,905.1 302.2,906.4 303.1,907.8 304.0,909.2 304.8,910.7 305.7,912.3 306.6,913.9 307.5,915.6 308.3,917.3 309.2,919.0 310.1,920.8 311.0,922.5 311.8,924.3 312.7,926.1 313.6,927.9 314.5,929.7 315.3,931.5 316.2,933.3 317.1,935.1 318.0,936.8 318.9,938.6 319.7,940.3 320.6,941.9 321.5,943.6 322.4,945.2 323.2,946.7 324.1,948.3 325.0,949.8 325.9,951.2 326.7,952.6 327.6,954.0 328.5,955.3 329.4,956.6 330.2,957.8 331.1,959.0 332.0,960.1 332.9,961.2 333.7,962.2 334.6,963.2 335.5,964.2 336.4,965.1 337.2,965.9 338.1,966.8 339.0,967.6 339.9,968.3 340.7,969.0 341.6,969.7 342.5,970.3 343.4,970.9 344.2,971.5 345.1,972.0 346.0,972.5 346.9,973.0 347.7,973.5 348.6,973.9 349.5,974.3 350.4,974.6 351.3,975.0 352.1,975.3 353.0,975.6 353.9,975.9 354.8,976.2 355.6,976.4 356.5,976.6 357.4,976.8 358.3,977.0 359.1,977.2 360.0,977.4 360.9,977.6 361.8,977.7 362.6,977.8 363.5,978.0 364.4,978.1 365.3,978.2 366.1,978.3 367.0,978.4 367.9,978.5 368.8,978.5 369.6,978.6 370.5,978.7 371.4,978.7 372.3,978.8 373.1,978.8 374.0,978.9 374.9,978.9 375.8,978.9 376.6,979.0 377.5,979.0 378.4,979.0 379.3,979.1 380.1,979.1 381.0,979.1"/>
<polyline fill="none" stroke="#FFC000" stroke-width="2.6" stroke-linejoin="round" stroke-linecap="round" points="332.7,979.2 333.5,979.1 334.4,979.1 335.3,979.1 336.2,979.1 337.0,979.0 337.9,979.0 338.8,979.0 339.7,978.9 340.5,978.9 341.4,978.8 342.3,978.8 343.2,978.7 344.0,978.7 344.9,978.6 345.8,978.5 346.7,978.4 347.5,978.3 348.4,978.2 349.3,978.1 350.2,978.0 351.0,977.8 351.9,977.7 352.8,977.5 353.7,977.3 354.5,977.2 355.4,976.9 356.3,976.7 357.1,976.5 358.0,976.2 358.9,976.0 359.8,975.7 360.6,975.4 361.5,975.0 362.4,974.7 363.3,974.3 364.1,973.9 365.0,973.5 365.9,973.1 366.8,972.6 367.6,972.1 368.5,971.6 369.4,971.1 370.3,970.5 371.1,970.0 372.0,969.4 372.9,968.8 373.8,968.2 374.6,967.5 375.5,966.9 376.4,966.2 377.3,965.5 378.1,964.8 379.0,964.1 379.9,963.5 380.7,962.8 381.6,962.1 382.5,961.4 383.4,960.7 384.2,960.1 385.1,959.5 386.0,958.9 386.9,958.3 387.7,957.7 388.6,957.2 389.5,956.7 390.4,956.3 391.2,955.9 392.1,955.6 393.0,955.3 393.9,955.0 394.7,954.8 395.6,954.7 396.5,954.6 397.4,954.6 398.2,954.7 399.1,954.8 400.0,954.9 400.9,955.1 401.7,955.4 402.6,955.7 403.5,956.1 404.3,956.5 405.2,957.0 406.1,957.5 407.0,958.0 407.8,958.6 408.7,959.1 409.6,959.8 410.5,960.4 411.3,961.1 412.2,961.7 413.1,962.4 414.0,963.1 414.8,963.8 415.7,964.5 416.6,965.2 417.5,965.8 418.3,966.5 419.2,967.2 420.1,967.8 421.0,968.5 421.8,969.1 422.7,969.7 423.6,970.3 424.5,970.8 425.3,971.4 426.2,971.9 427.1,972.4 427.9,972.8 428.8,973.3 429.7,973.7 430.6,974.1 431.4,974.5 432.3,974.9 433.2,975.2 434.1,975.5 434.9,975.8 435.8,976.1 436.7,976.4 437.6,976.6 438.4,976.8 439.3,977.0 440.2,977.2 441.1,977.4 441.9,977.6 442.8,977.8 443.7,977.9 444.6,978.0 445.4,978.1 446.3,978.3 447.2,978.4 448.1,978.5 448.9,978.5 449.8,978.6 450.7,978.7 451.5,978.8 452.4,978.8 453.3,978.9 454.2,978.9 455.0,979.0 455.9,979.0 456.8,979.0 457.7,979.1 458.5,979.1 459.4,979.1 460.3,979.1 461.2,979.1 462.0,979.2 462.9,979.2 463.8,979.2 464.7,979.2"/>
<polyline fill="none" stroke="#1770D0" stroke-width="2.85" stroke-linejoin="round" stroke-linecap="round" points="397.6,979.1 398.4,979.1 399.3,979.0 400.2,979.0 401.1,979.0 401.9,978.9 402.8,978.9 403.7,978.8 404.5,978.8 405.4,978.7 406.3,978.6 407.2,978.5 408.0,978.5 408.9,978.4 409.8,978.3 410.6,978.2 411.5,978.0 412.4,977.9 413.3,977.8 414.1,977.6 415.0,977.5 415.9,977.3 416.7,977.1 417.6,976.9 418.5,976.6 419.4,976.4 420.2,976.1 421.1,975.9 422.0,975.6 422.8,975.3 423.7,974.9 424.6,974.6 425.5,974.2 426.3,973.8 427.2,973.4 428.1,972.9 428.9,972.5 429.8,972.0 430.7,971.5 431.6,970.9 432.4,970.4 433.3,969.8 434.2,969.2 435.0,968.6 435.9,968.0 436.8,967.3 437.7,966.7 438.5,966.0 439.4,965.4 440.3,964.7 441.1,964.0 442.0,963.3 442.9,962.6 443.8,961.9 444.6,961.3 445.5,960.6 446.4,960.0 447.2,959.4 448.1,958.8 449.0,958.2 449.8,957.7 450.7,957.2 451.6,956.7 452.5,956.3 453.3,955.9 454.2,955.6 455.1,955.3 455.9,955.1 456.8,954.9 457.7,954.8 458.6,954.7 459.4,954.7 460.3,954.8 461.2,954.9 462.0,955.1 462.9,955.3 463.8,955.6 464.7,955.9 465.5,956.3 466.4,956.7 467.3,957.2 468.1,957.7 469.0,958.2 469.9,958.8 470.8,959.4 471.6,960.0 472.5,960.6 473.4,961.3 474.2,961.9 475.1,962.6 476.0,963.3 476.9,964.0 477.7,964.7 478.6,965.4 479.5,966.0 480.3,966.7 481.2,967.3 482.1,968.0 483.0,968.6 483.8,969.2 484.7,969.8 485.6,970.4 486.4,970.9 487.3,971.5 488.2,972.0 489.1,972.5 489.9,972.9 490.8,973.4 491.7,973.8 492.5,974.2 493.4,974.6 494.3,974.9 495.2,975.3 496.0,975.6 496.9,975.9 497.8,976.1 498.6,976.4 499.5,976.6 500.4,976.9 501.3,977.1 502.1,977.3 503.0,977.5 503.9,977.6 504.7,977.8 505.6,977.9 506.5,978.0 507.3,978.2 508.2,978.3 509.1,978.4 510.0,978.5 510.8,978.5 511.7,978.6 512.6,978.7 513.4,978.8 514.3,978.8 515.2,978.9 516.1,978.9 516.9,979.0 517.8,979.0 518.7,979.0 519.5,979.1 520.4,979.1 521.3,979.1 522.2,979.1 523.0,979.2 523.9,979.2"/>
<text transform="translate(244.80,740.60) scale(1.0,1.07)" font-size="15.9" font-weight="bold" fill="#FC7612">C-C</text>
<line x1="252.4" y1="745.9" x2="231.7" y2="776.4" stroke="#FC7612" stroke-width="1.15"/><polyline points="232.1,765.6 231.7,776.4 241.6,772.0" fill="none" stroke="#FC7612" stroke-width="1.15"/>
<text transform="translate(310.00,864.30) scale(1.0,1.07)" font-size="15.9" font-weight="bold" fill="#B3B3B3">C-O</text>
<line x1="318.2" y1="868.6" x2="297.6" y2="897.1" stroke="#8E8E8E" stroke-width="1.15"/><polyline points="298.3,886.3 297.6,897.1 307.6,893.0" fill="none" stroke="#8E8E8E" stroke-width="1.15"/>
<text transform="translate(397.40,890.80) scale(1.0,1.07)" font-size="15.9" font-weight="bold" fill="#FFC000">C=O</text>
<line x1="411.9" y1="895.2" x2="397.8" y2="950.8" stroke="#FFC000" stroke-width="1.15"/><polyline points="394.5,940.5 397.8,950.8 405.6,943.3" fill="none" stroke="#FFC000" stroke-width="1.15"/>
<text transform="translate(458.40,907.00) scale(1.0,1.07)" font-size="15.9" font-weight="bold" fill="#1770D0">O-(C=O)-O</text>
<line x1="480.0" y1="917.0" x2="461.0" y2="952.4" stroke="#1770D0" stroke-width="1.15"/><polyline points="460.3,941.6 461.0,952.4 470.4,947.0" fill="none" stroke="#1770D0" stroke-width="1.15"/>
<text transform="translate(100.80,946.90) scale(1.0,1.04)" font-size="17.4" font-weight="bold" fill="#000">6CD4PE</text>
</svg>
</body></html>
